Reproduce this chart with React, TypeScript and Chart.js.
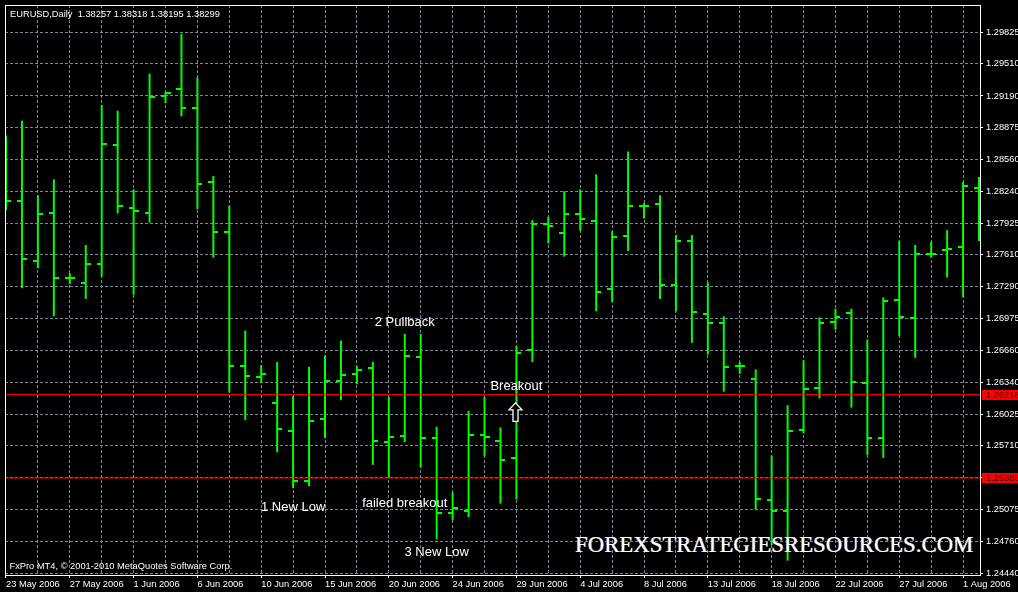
import React, { useEffect, useRef } from 'react';
import { Chart, registerables } from 'chart.js';

Chart.register(...registerables);

// ---- data ----
const X_LABELS = [
  '23 May 2006', '27 May 2006', '1 Jun 2006', '6 Jun 2006', '10 Jun 2006', '15 Jun 2006',
  '20 Jun 2006', '24 Jun 2006', '29 Jun 2006', '4 Jul 2006', '8 Jul 2006', '13 Jul 2006',
  '18 Jul 2006', '22 Jul 2006', '27 Jul 2006', '1 Aug 2006',
];

const OPEN = [
  1.28600, 1.28145, 1.27544, 1.28029, 1.27376, 1.27327, 1.27522, 1.28702, 1.28079, 1.28029,
  1.29185, 1.29264, 1.29066, 1.28333, 1.27838, 1.26502, 1.26393, 1.26136, 1.25859, 1.25354,
  1.25980, 1.26354, 1.26420, 1.26485, 1.25743, 1.25802, 1.26594, 1.25782, 1.25040, 1.25064,
  1.25812, 1.25760, 1.25584, 1.26660, 1.27911, 1.27831, 1.28017, 1.27950, 1.27264, 1.27799,
  1.28099, 1.28115, 1.27304, 1.27749, 1.27020, 1.26928, 1.26499, 1.26376, 1.25166, 1.25060,
  1.25868, 1.26287, 1.26938, 1.27030, 1.26337, 1.25786, 1.27155, 1.26984, 1.27621, 1.27653,
  1.27683, 1.28277,
];
const HIGH = [
  1.28796, 1.28944, 1.28202, 1.28360, 1.27426, 1.27707, 1.29102, 1.29043, 1.28261, 1.29412,
  1.29231, 1.29808, 1.29373, 1.28393, 1.28096, 1.26855, 1.26512, 1.26542, 1.26205, 1.26495,
  1.26608, 1.26756, 1.26502, 1.26542, 1.26195, 1.26822, 1.26822, 1.25898, 1.25245, 1.26057,
  1.26195, 1.25891, 1.26700, 1.27954, 1.27987, 1.28241, 1.28261, 1.28410, 1.27845, 1.28637,
  1.28125, 1.28202, 1.27806, 1.27806, 1.27334, 1.26997, 1.26542, 1.26469, 1.25611, 1.26113,
  1.26561, 1.26987, 1.27073, 1.27073, 1.26766, 1.27185, 1.27749, 1.27707, 1.27739, 1.27855,
  1.28333, 1.28383,
];
const LOW = [
  1.28053, 1.27277, 1.27475, 1.26997, 1.27317, 1.27170, 1.27393, 1.28020, 1.27212, 1.27930,
  1.29118, 1.28987, 1.28063, 1.27581, 1.26238, 1.25964, 1.26337, 1.25644, 1.25287, 1.25307,
  1.25786, 1.26162, 1.26321, 1.25519, 1.25386, 1.25743, 1.25495, 1.24777, 1.24968, 1.25000,
  1.25604, 1.25133, 1.25176, 1.26542, 1.27723, 1.27591, 1.27848, 1.27046, 1.27139, 1.27647,
  1.27970, 1.27170, 1.27046, 1.26733, 1.26618, 1.26248, 1.26426, 1.25074, 1.24720, 1.24565,
  1.25832, 1.26182, 1.26865, 1.26089, 1.25618, 1.25588, 1.26799, 1.26584, 1.27581, 1.27383,
  1.27188, 1.27746,
];
const CLOSE = [
  1.28145, 1.27564, 1.28020, 1.27376, 1.27376, 1.27515, 1.28709, 1.28099, 1.28046, 1.29178,
  1.29224, 1.29066, 1.28314, 1.27838, 1.26502, 1.26403, 1.26420, 1.25875, 1.25354, 1.25958,
  1.26354, 1.26413, 1.26462, 1.25753, 1.25792, 1.26601, 1.25782, 1.25040, 1.25089, 1.25819,
  1.25792, 1.25571, 1.26634, 1.27920, 1.27898, 1.28017, 1.27967, 1.27244, 1.27789, 1.28096,
  1.28099, 1.27304, 1.27749, 1.27040, 1.26928, 1.26492, 1.26499, 1.25176, 1.25060, 1.25859,
  1.26277, 1.26928, 1.26987, 1.26347, 1.25786, 1.27145, 1.26990, 1.27614, 1.27621, 1.27663,
  1.28291, 1.28200,
];

const Y_TICKS = [
  1.29825, 1.29510, 1.29190, 1.28875, 1.28560, 1.28240, 1.27925, 1.27610, 1.27290,
  1.26975, 1.26660, 1.26340, 1.26025, 1.25710, 1.25390, 1.25075, 1.24760, 1.24440,
];
const LEVELS = [1.26218, 1.25388];

const ANNOTATIONS = [
  { text: '2 Pullback', bar: 25, price: 1.26940 },
  { text: 'Breakout', bar: 32, price: 1.26297 },
  { text: '1 New Low', bar: 18, price: 1.25093 },
  { text: 'failed breakout', bar: 25, price: 1.25133 },
  { text: '3 New Low', bar: 27, price: 1.24644 },
];
const ARROW = { bar: 32, top: 1.26136, bottom: 1.25951 };

const HEADER = 'EURUSD,Daily  1.38257 1.38318 1.38195 1.38299';
const COPYRIGHT = 'FxPro MT4, \u00A9 2001-2010 MetaQuotes Software Corp.';
const WATERMARK = 'FOREXSTRATEGIESRESOURCES.COM';

const X_MIN = -0.0625;
const X_MAX = 61.0625;
const Y_MIN = 1.24423;
const Y_MAX = 1.30095;

// ---- styles ----
const GREEN = '#00ff00';
const GRID = '#778899';
const SMALL_FONT = 'Liberation Sans';
const SMALL_SIZE = 9.3;

function makeTick(side: 'left' | 'right'): HTMLCanvasElement {
  const c = document.createElement('canvas');
  c.width = 10;
  c.height = 2;
  const g = c.getContext('2d')!;
  g.fillStyle = GREEN;
  g.fillRect(side === 'left' ? 0 : 5, 0, 5, 2);
  return c;
}

const overlayPlugin = {
  id: 'mt4overlay',
  beforeDraw(chart: any) {
    const { ctx, width, height } = chart;
    ctx.save();
    ctx.fillStyle = '#000';
    ctx.fillRect(0, 0, width, height);
    ctx.restore();
  },
  beforeDatasetsDraw(chart: any) {
    chart.ctx.imageSmoothingEnabled = false;
  },
  afterDatasetsDraw(chart: any) {
    chart.ctx.imageSmoothingEnabled = true;
  },
  afterDraw(chart: any) {
    const { ctx, chartArea: a, scales } = chart;
    const x = scales.x;
    const y = scales.y;
    ctx.save();

    // frame
    ctx.strokeStyle = '#ffffff';
    ctx.lineWidth = 1;
    ctx.strokeRect(a.left + 0.5, a.top + 0.5, a.right - a.left, a.bottom - a.top);

    // header & copyright
    ctx.font = `${SMALL_SIZE}px "${SMALL_FONT}"`;
    ctx.fillStyle = '#ffffff';
    ctx.textAlign = 'left';
    ctx.textBaseline = 'middle';
    ctx.fillText(HEADER, a.left + 5, a.top + 9);
    ctx.fillText(COPYRIGHT, a.left + 4.5, a.bottom - 8.5);

    // annotations
    ctx.font = '13px "Liberation Sans"';
    ctx.textAlign = 'center';
    ctx.textBaseline = 'middle';
    ctx.fillStyle = '#ffffff';
    for (const an of ANNOTATIONS) {
      ctx.fillText(an.text, x.getPixelForValue(an.bar), y.getPixelForValue(an.price));
    }

    // arrow
    const cx = Math.round(x.getPixelForValue(ARROW.bar)) - 0.5;
    const yt = y.getPixelForValue(ARROW.top);
    const yb = y.getPixelForValue(ARROW.bottom);
    ctx.beginPath();
    ctx.moveTo(cx, yt);
    ctx.lineTo(cx + 6.5, yt + 7);
    ctx.lineTo(cx + 2.5, yt + 7);
    ctx.lineTo(cx + 2.5, yb);
    ctx.lineTo(cx - 2.5, yb);
    ctx.lineTo(cx - 2.5, yt + 7);
    ctx.lineTo(cx - 6.5, yt + 7);
    ctx.closePath();
    ctx.fillStyle = '#000';
    ctx.fill();
    ctx.strokeStyle = '#ffffff';
    ctx.lineWidth = 1.3;
    ctx.stroke();

    // watermark
    ctx.font = '22.8px "Liberation Serif"';
    ctx.textAlign = 'left';
    ctx.textBaseline = 'alphabetic';
    const wx = a.right - 405;
    const wy = a.bottom - 23;
    ctx.fillStyle = 'rgba(90,120,255,0.7)';
    ctx.fillText(WATERMARK, wx - 0.7, wy);
    ctx.fillStyle = 'rgba(230,180,80,0.7)';
    ctx.fillText(WATERMARK, wx + 0.7, wy);
    ctx.fillStyle = '#ffffff';
    ctx.fillText(WATERMARK, wx, wy);

    // price level labels on the right axis
    ctx.font = `${SMALL_SIZE}px "${SMALL_FONT}"`;
    ctx.textBaseline = 'middle';
    for (const lv of LEVELS) {
      const py = Math.round(y.getPixelForValue(lv));
      ctx.fillStyle = '#ff0000';
      ctx.fillRect(a.right + 2, py - 5, chart.width - a.right - 2, 10);
      ctx.fillStyle = '#3a0000';
      ctx.fillText(lv.toFixed(5), a.right + 6, py);
    }

    ctx.restore();
  },
};

export default function App() {
  const ref = useRef<HTMLCanvasElement>(null);

  useEffect(() => {
    document.body.style.margin = '0';
    document.body.style.background = '#000';
    const canvas = ref.current;
    if (!canvas) return;

    const openTick = makeTick('left');
    const closeTick = makeTick('right');
    const smallFont = { family: SMALL_FONT, size: SMALL_SIZE };

    const levelSets = LEVELS.map((lv) => ({
      type: 'line' as const,
      data: [{ x: X_MIN, y: lv }, { x: X_MAX, y: lv }],
      borderColor: '#ff0000',
      borderWidth: 1,
      pointRadius: 0,
      order: 0,
    }));

    const chart = new Chart(canvas, {
      type: 'bar',
      data: {
        datasets: [
          ...levelSets,
          {
            type: 'bar',
            data: HIGH.map((h, i) => ({ x: i, y: [LOW[i], h] })) as any,
            backgroundColor: GREEN,
            borderWidth: 0,
            barThickness: 2,
            inflateAmount: 0,
            order: 3,
          } as any,
          {
            type: 'scatter',
            data: OPEN.map((o, i) => ({ x: i, y: o })),
            pointStyle: openTick as any,
            pointRadius: 3,
            order: 2,
          },
          {
            type: 'scatter',
            data: CLOSE.map((c, i) => ({ x: i, y: c })),
            pointStyle: closeTick as any,
            pointRadius: 3,
            order: 2,
          },
        ],
      },
      options: {
        responsive: false,
        animation: false,
        devicePixelRatio: 1,
        events: [],
        layout: { padding: { left: 2, top: 2, right: 0, bottom: 0 } },
        plugins: { legend: { display: false }, tooltip: { enabled: false } },
        scales: {
          x: {
            type: 'linear',
            min: X_MIN,
            max: X_MAX,
            offset: false,
            position: 'bottom',
            afterBuildTicks: (s: any) => {
              const t = [];
              for (let v = 0; v <= 60; v += 2) t.push({ value: v });
              s.ticks = t;
            },
            afterFit: (s: any) => {
              s.height = 17;
              s.paddingLeft = 0;
              s.paddingRight = 0;
            },
            grid: {
              offset: false,
              color: (c: any) => (c.tick && c.tick.value === 0 ? 'rgba(0,0,0,0)' : GRID),
              lineWidth: 1,
              tickLength: 3,
              tickColor: (c: any) => (c.tick && c.tick.value % 4 === 0 ? '#ffffff' : 'rgba(0,0,0,0)'),
            },
            border: { display: false, dash: [3, 2] },
            ticks: {
              autoSkip: false,
              maxRotation: 0,
              minRotation: 0,
              align: 'start',
              padding: 1,
              color: '#ffffff',
              font: smallFont,
              callback: (v: any) => {
                const n = Number(v);
                return n % 4 === 0 ? X_LABELS[n / 4] : '';
              },
            },
          },
          y: {
            type: 'linear',
            position: 'right',
            min: Y_MIN,
            max: Y_MAX,
            beginAtZero: false,
            afterBuildTicks: (s: any) => {
              s.ticks = Y_TICKS.map((v) => ({ value: v }));
            },
            afterFit: (s: any) => {
              s.width = 38;
              s.paddingTop = 0;
              s.paddingBottom = 0;
            },
            grid: {
              color: GRID,
              lineWidth: 1,
              tickLength: 3,
              tickColor: '#ffffff',
            },
            border: { display: false, dash: [3, 2] },
            ticks: {
              autoSkip: false,
              padding: 3,
              color: '#ffffff',
              font: smallFont,
              callback: (v: any) => {
                const n = Number(v);
                return LEVELS.some((l) => Math.abs(l - n) < 0.0002) ? '' : n.toFixed(5);
              },
            },
          },
        },
      } as any,
      plugins: [overlayPlugin],
    });

    return () => chart.destroy();
  }, []);

  return (
    <div style={{ position: 'fixed', left: 0, top: 0, width: 1018, height: 592, background: '#000' }}>
      <canvas ref={ref} width={1018} height={592} style={{ display: 'block', width: 1018, height: 592 }} />
    </div>
  );
}
